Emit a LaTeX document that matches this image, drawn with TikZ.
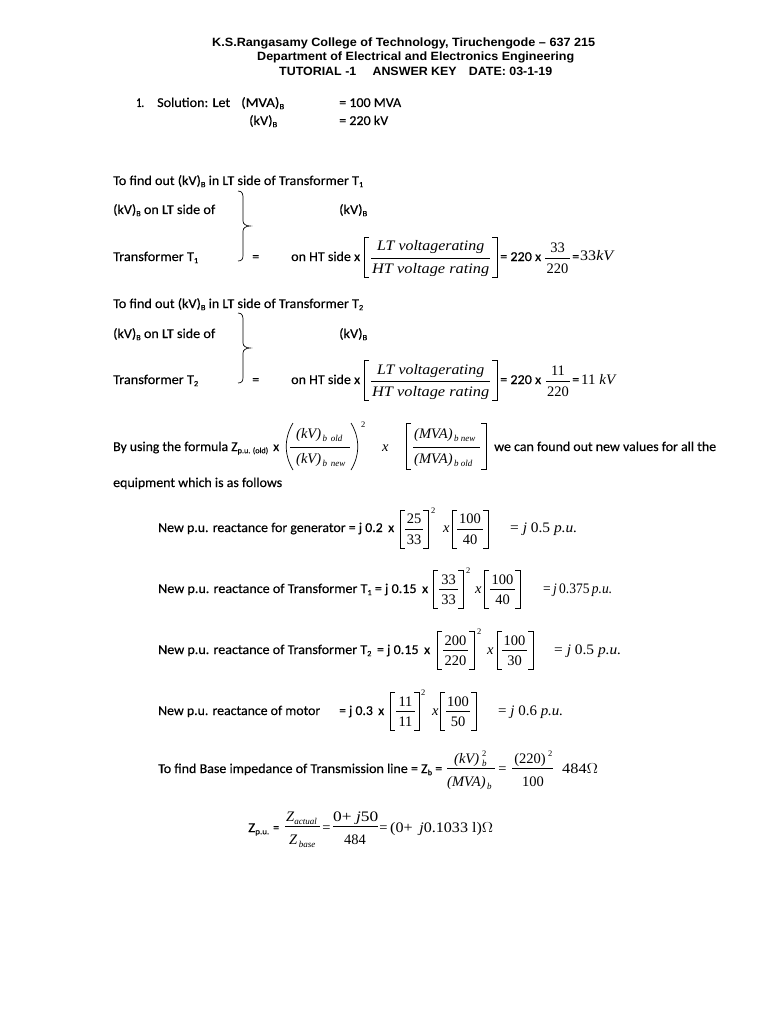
\documentclass[tikz,border=0pt]{standalone}
\usepackage{fontspec}
\usepackage{graphicx}
\setmainfont{Liberation Serif}
\newfontfamily\calfam{Carlito}[FakeBold=0.3]
\newfontfamily\arialfam{Liberation Sans}
\newfontfamily\timesfam{Liberation Serif}
\newcommand{\bodyf}{\calfam\fontsize{13.5}{13.5}\selectfont}
\newcommand{\headf}{\arialfam\bfseries\fontsize{12}{12}\selectfont}
\newcommand{\mathf}{\timesfam\itshape\fontsize{14.5}{14.5}\selectfont}
\newcommand{\numf}{\timesfam\fontsize{14.5}{14.5}\selectfont}
\newcommand{\tinyn}{\timesfam\itshape\fontsize{9}{9}\selectfont}
\newcommand{\supf}{\timesfam\fontsize{8.5}{8.5}\selectfont}
\newcommand{\dn}[1]{\raisebox{-2.2pt}{\calfam\fontsize{8}{8}\selectfont #1}}
\newcommand{\dnm}[1]{\raisebox{-3pt}{\tinyn #1}}
\newcommand{\fitw}[2]{\resizebox{#1pt}{\height}{#2}}
\tikzset{
  lbl/.style={inner sep=0pt,anchor=base west,font=\bodyf},
  hdr/.style={inner sep=0pt,anchor=base west,font=\headf},
  mth/.style={inner sep=0pt,anchor=base west,font=\mathf},
  num/.style={inner sep=0pt,anchor=base,font=\numf},
  sups/.style={inner sep=0pt,anchor=base west,font=\supf},
  ink/.style={draw=black,line width=0.7pt}
}
% name x y width text
\newcommand{\tx}[5]{\node[lbl] (#1) at (#2,#3) {\fitw{#4}{#5}};}
\newcommand{\mx}[5]{\node[mth] (#1) at (#2,#3) {\fitw{#4}{#5}};}
\newcommand{\hx}[5]{\node[hdr] (#1) at (#2,#3) {\fitw{#4}{#5}};}
% x y1 y2
\newcommand{\lbk}[3]{\draw[ink] (#1+5,#2) -- (#1,#2) -- (#1,#3) -- (#1+5,#3);}
\newcommand{\rbk}[3]{\draw[ink] (#1-5,#2) -- (#1,#2) -- (#1,#3) -- (#1-5,#3);}
% x1 x2 yrule
\newcommand{\rul}[3]{\draw[ink] (#1,#3) -- (#2,#3);}
% brace: topy tipy boty
\newcommand{\brc}[3]{\draw[ink] (238,#1) .. controls (243,#1) and (243,#1+4) .. (243,#1+8) -- (243,#2-5) .. controls (243,#2-2) and (246,#2) .. (250,#2) .. controls (246,#2) and (243,#2+2) .. (243,#2+5) -- (243,#3-6) .. controls (243,#3-2) and (242,#3) .. (238,#3);}
\begin{document}
\begin{tikzpicture}[x=1pt,y=-1pt]
\useasboundingbox[fill=white] (0,0) rectangle (768,1024);
% heading
\hx{h1}{212}{47}{383}{K.S.Rangasamy College of Technology, Tiruchengode – 637 215}
\hx{h2}{257}{61}{317}{Department of Electrical and Electronics Engineering}
\hx{h3}{279}{76}{273}{TUTORIAL -1 \hspace{9pt} ANSWER KEY \hspace{5pt} DATE: 03-1-19}
% solution
\tx{s1}{136}{107}{8}{1.}
\tx{s2}{157}{107}{73}{Solution: Let}
\tx{s3}{241}{107}{43}{(MVA)\dn{B}}
\tx{s4}{339}{107}{62}{= 100 MVA}
\tx{s5}{249}{125}{28}{(kV)\dn{B}}
\tx{s6}{339}{125}{49}{= 220 kV}
% block 1
\tx{a1}{113}{185}{250}{To find out (kV)\dn{B} in LT side of Transformer T\dn{1}}
\tx{a2}{113}{214}{102}{(kV)\dn{B} on LT side of}
\tx{a3}{339}{214}{28}{(kV)\dn{B}}
\tx{a4}{113}{261}{85}{Transformer T\dn{1}}
\tx{a5}{252}{261}{7}{=}
\tx{a6}{291}{261}{69}{on HT side x}
\brc{191}{226}{261}
\lbk{364}{237}{277}\rbk{497}{237}{277}
\rul{371}{490}{258}
\mx{a7}{377}{251}{107}{LT voltagerating}
\mx{a8}{372}{273}{117}{HT voltage rating}
\tx{a9}{500}{261}{41}{= 220 x}
\rul{545}{570}{258}
\node[num] (a10) at (557.5,252) {33};
\node[num] (a11) at (557.5,273) {220};
\tx{a12}{572}{261}{7}{=}
\mx{a13}{580}{261}{33}{{\upshape 33}kV}
% block 2
\tx{b1}{113}{308}{250}{To find out (kV)\dn{B} in LT side of Transformer T\dn{2}}
\tx{b2}{113}{338}{102}{(kV)\dn{B} on LT side of}
\tx{b3}{339}{338}{28}{(kV)\dn{B}}
\tx{b4}{113}{384}{85}{Transformer T\dn{2}}
\tx{b5}{252}{384}{7}{=}
\tx{b6}{291}{384}{69}{on HT side x}
\brc{313}{348}{383}
\lbk{364}{360}{400}\rbk{497}{360}{400}
\rul{371}{490}{381}
\mx{b7}{377}{374}{107}{LT voltagerating}
\mx{b8}{372}{396}{117}{HT voltage rating}
\tx{b9}{500}{384}{41}{= 220 x}
\rul{546}{570}{381}
\node[num] (b10) at (558,375) {11};
\node[num] (b11) at (558,396) {220};
\tx{b12}{572}{384}{7}{=}
\mx{b13}{581}{384}{34}{{\upshape 11} kV}
% formula line
\tx{f1}{113}{451}{155}{By using the formula Z\dn{p.u. (old)}}
\tx{f2}{273}{451}{6}{x}
\draw[ink] (293,423) .. controls (284,438) and (284,455) .. (293,470);
\draw[ink] (351,423) .. controls (360,438) and (360,455) .. (351,470);
\rul{290}{350}{447}
\node[mth] (f3) at (296,438) {(kV)\dnm{\,b\, old}};
\node[mth] (f4) at (296,463) {(kV)\dnm{\,b\, new}};
\node[sups] (f5) at (361,427) {2};
\node[mth] (f6) at (382,451) {x};
\lbk{406}{423}{469}\rbk{486}{423}{469}
\rul{413}{480}{447}
\node[mth] (f7) at (414,438) {(MVA)\dnm{\,b new}};
\node[mth] (f8) at (414,463) {(MVA)\dnm{\,b old}};
\tx{f9}{494}{451}{222}{we can found out new values for all the}
\tx{f10}{113}{487}{169}{equipment which is as follows}
% reactance rows
\tx{r1}{158}{532}{236}{New p.u. reactance for generator = j 0.2 \,x}
\lbk{400}{510}{548}\rbk{428}{510}{548}\rul{405}{423}{529}
\node[num] (r1a) at (414,523) {25};\node[num] (r1b) at (414,544) {33};
\node[sups] (r1c) at (431,513) {2};
\node[mth] (r1d) at (443,532) {x};
\lbk{452}{510}{548}\rbk{488}{510}{548}\rul{457}{483}{529}
\node[num] (r1e) at (470,523) {100};\node[num] (r1f) at (470,544) {40};
\mx{r1g}{510}{532}{67}{{\upshape =} j {\upshape 0.5} p.u.}
%
\tx{r2}{158}{593}{270}{New p.u. reactance of Transformer T\dn{1} = j 0.15 \,x}
\lbk{433}{570}{608}\rbk{463}{570}{608}\rul{439}{458}{589}
\node[num] (r2a) at (448.5,584) {33};\node[num] (r2b) at (448.5,604) {33};
\node[sups] (r2c) at (466,573) {2};
\node[mth] (r2d) at (475,593) {x};
\lbk{484}{570}{608}\rbk{520}{570}{608}\rul{490}{515}{589}
\node[num] (r2e) at (502.5,584) {100};\node[num] (r2f) at (502.5,604) {40};
\mx{r2g}{543}{593}{69}{{\upshape =}\,j\,{\upshape 0.375}\,p.u.}
%
\tx{r3}{158}{654}{272}{New p.u. reactance of Transformer T\dn{2} \,= j 0.15 \,x}
\lbk{437}{631}{669}\rbk{474}{631}{669}\rul{443}{468}{650}
\node[num] (r3a) at (455.5,645) {200};\node[num] (r3b) at (455.5,665) {220};
\node[sups] (r3c) at (477,634) {2};
\node[mth] (r3d) at (487,654) {x};
\lbk{497}{631}{669}\rbk{533}{631}{669}\rul{502}{527}{650}
\node[num] (r3e) at (514.5,645) {100};\node[num] (r3f) at (514.5,665) {30};
\mx{r3g}{554}{654}{67}{{\upshape =} j {\upshape 0.5} p.u.}
%
\tx{r4}{158}{715}{162}{New p.u. reactance of motor}
\tx{r4h}{339}{715}{45}{= j 0.3 \,x}
\lbk{390}{692}{730}\rbk{419}{692}{730}\rul{396}{415}{711}
\node[num] (r4a) at (405.5,706) {11};\node[num] (r4b) at (405.5,726) {11};
\node[sups] (r4c) at (421,695) {2};
\node[mth] (r4d) at (432,715) {x};
\lbk{440}{692}{730}\rbk{476}{692}{730}\rul{446}{470}{711}
\node[num] (r4e) at (458,706) {100};\node[num] (r4f) at (458,726) {50};
\mx{r4g}{498}{715}{65}{{\upshape =} j {\upshape 0.6} p.u.}
% base impedance
\tx{z1}{158}{773}{284}{To find Base impedance of Transmission line = Z\dn{b} =}
\rul{447}{495}{768}
\node[mth] (z2) at (454,763) {(kV)};
\node[sups] (z3) at (482,756) {2};
\node[inner sep=0pt,anchor=base west,font=\tinyn] (z4) at (482,766) {b};
\node[mth] (z5) at (447,786) {(MVA)\dnm{\,b}};
\node[num] (z6) at (502.5,773) {=};
\rul{512}{553}{768}
\node[num] (z7) at (530,763) {(220)};
\node[sups] (z8) at (548,756) {2};
\node[num] (z9) at (533,786) {100};
\node[inner sep=0pt,anchor=base west,font=\numf] (z10) at (562,773) {\fitw{36}{484$\Omega$}};
% per unit
\tx{u1}{248}{832}{21}{Z\dn{p.u.}}
\tx{u2}{273}{832}{6}{=}
\rul{285}{320}{826}
\node[mth] (u3) at (286,821) {Z\dnm{actual}};
\node[mth] (u4) at (289,844) {Z\dnm{\,base}};
\node[num] (u5) at (326.5,832) {=};
\rul{333}{378}{826}
\node[inner sep=0pt,anchor=base west,font=\numf] (u6) at (333,821) {\fitw{45}{0+ {\itshape j}50}};
\node[num] (u7) at (355,844) {484};
\node[num] (u8) at (383.5,832) {=};
\node[inner sep=0pt,anchor=base west,font=\numf] (u9) at (390,832) {\fitw{103}{(0+\, {\itshape j}0.1033 l)$\Omega$}};
\end{tikzpicture}
\end{document}
